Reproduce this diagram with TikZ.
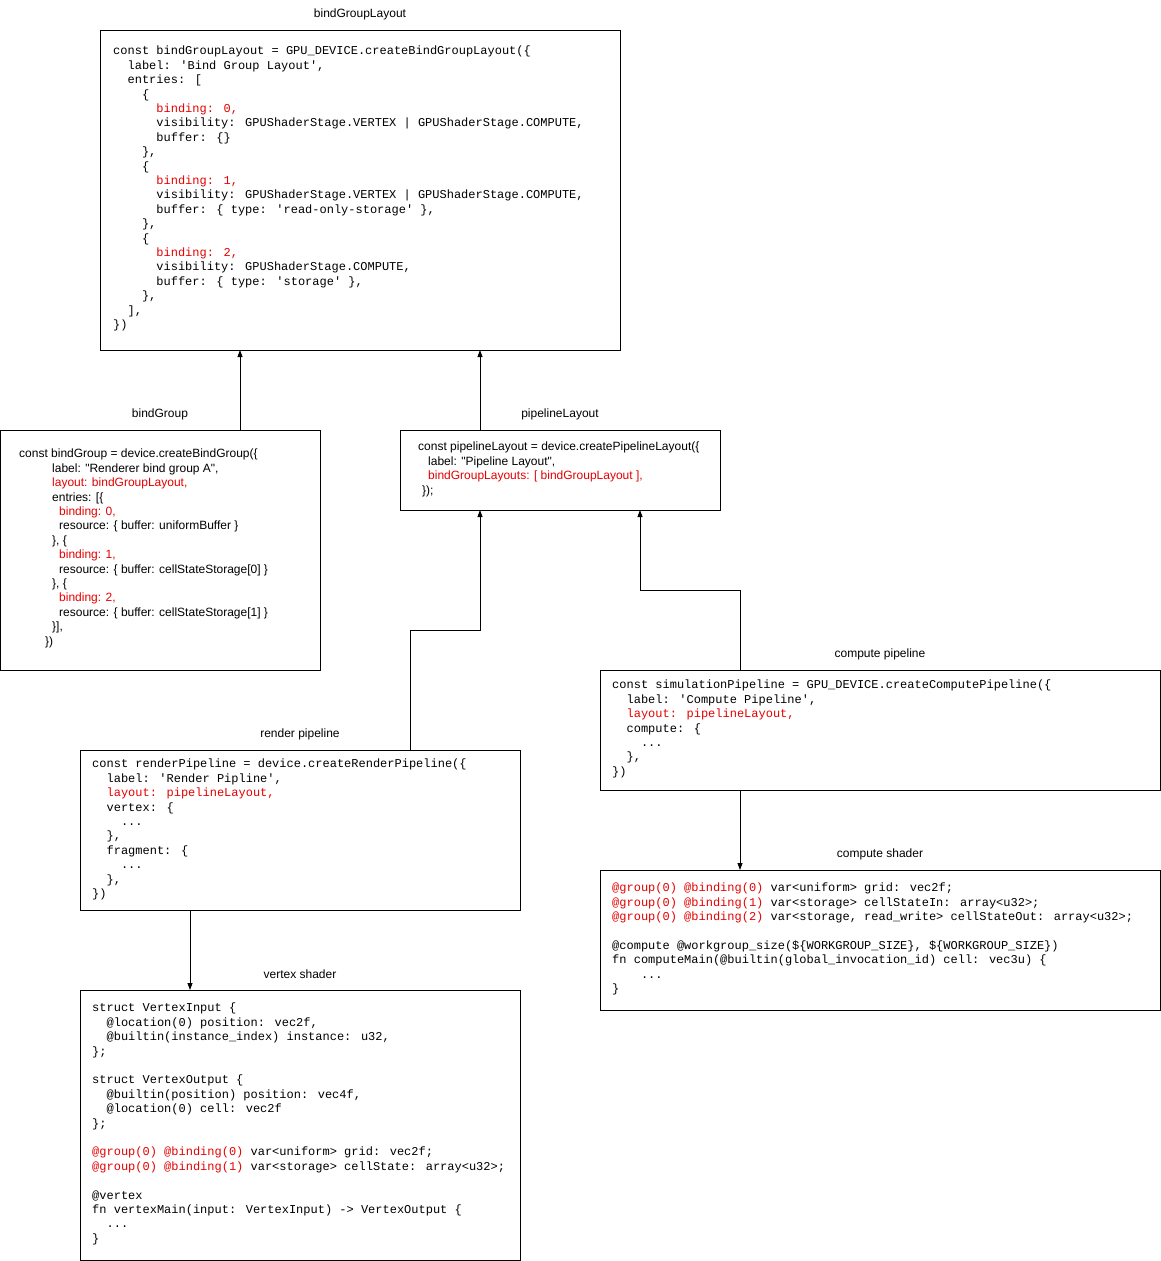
\documentclass[tikz,border=0pt]{standalone}
\usepackage{fontspec}
\usetikzlibrary{arrows.meta}
\newfontfamily\mono{Liberation Mono}
\newfontfamily\sans{Liberation Sans}
\definecolor{cred}{RGB}{230,0,0}
\newcommand{\I}[1]{\hspace*{#1\dimexpr7.2pt\relax}}
\newcommand{\R}[1]{\textcolor{cred}{#1}}
\newcommand{\B}{\mbox{}}
\begin{document}
\begin{tikzpicture}[x=1pt,y=-1pt,
  box/.style={draw,line width=0.8pt},
  code/.style={anchor=north west,inner sep=0pt,align=left,font=\mono\fontsize{12}{14.4}\selectfont},
  scode/.style={anchor=north west,inner sep=0pt,align=left,font=\sans\fontsize{12}{14.4}\selectfont},
  ttl/.style={font=\sans\fontsize{12}{14}\selectfont,inner sep=0pt},
  arr/.style={line width=0.8pt,-{Triangle[length=7pt,width=5pt]}}]
\useasboundingbox (0,0) rectangle (1161,1261);
\fill[white] (0,0) rectangle (1161,1261);
% boxes
\draw[box] (100,30) rectangle (620,350);
\draw[box] (0,430) rectangle (320,670);
\draw[box] (400,430) rectangle (720,510);
\draw[box] (600,670) rectangle (1160,790);
\draw[box] (80,750) rectangle (520,910);
\draw[box] (600,870) rectangle (1160,1010);
\draw[box] (80,990) rectangle (520,1260);
% titles
\node[ttl] (t1) at (360,14) {bindGroupLayout};
\node[ttl] (t2) at (160,414) {bindGroup};
\node[ttl] (t3) at (560,414) {pipelineLayout};
\node[ttl] (t4) at (880,654) {compute pipeline};
\node[ttl] (t5) at (300,734) {render pipeline};
\node[ttl] (t6) at (880,854) {compute shader};
\node[ttl] (t7) at (300,974) {vertex shader};
% connector points
\coordinate (a1) at (240,430); \coordinate (a1e) at (240,350);
\coordinate (a2) at (480,430); \coordinate (a2e) at (480,350);
\coordinate (a3) at (410,750); \coordinate (a3e) at (480,510);
\coordinate (a4) at (740,670); \coordinate (a4e) at (640,510);
\coordinate (a5) at (190,910); \coordinate (a5e) at (190,990);
\coordinate (a6) at (740,790); \coordinate (a6e) at (740,870);
\draw[arr] (a1) -- (a1e);
\draw[arr] (a2) -- (a2e);
\draw[arr] (a3) -- (410,630) -- (480,630) -- (a3e);
\draw[arr] (a4) -- (740,590) -- (640,590) -- (a4e);
\draw[arr] (a5) -- (a5e);
\draw[arr] (a6) -- (a6e);
% code
\node[code] (c1) at (113,46) {const bindGroupLayout = GPU\_DEVICE.createBindGroupLayout(\{\\
\I2label: 'Bind Group Layout',\\
\I2entries: [\\
\I4\{\\
\I6\R{binding: 0,}\\
\I6visibility: GPUShaderStage.VERTEX | GPUShaderStage.COMPUTE,\\
\I6buffer: \{\}\\
\I4\},\\
\I4\{\\
\I6\R{binding: 1,}\\
\I6visibility: GPUShaderStage.VERTEX | GPUShaderStage.COMPUTE,\\
\I6buffer: \{ type: 'read-only-storage' \},\\
\I4\},\\
\I4\{\\
\I6\R{binding: 2,}\\
\I6visibility: GPUShaderStage.COMPUTE,\\
\I6buffer: \{ type: 'storage' \},\\
\I4\},\\
\I2],\\
\})};
\node[scode] (c2) at (19,449) {const bindGroup = device.createBindGroup(\{\\
\hspace*{33pt}label: "Renderer bind group A",\\
\hspace*{33pt}\R{layout: bindGroupLayout,}\\
\hspace*{33pt}entries: [\{\\
\hspace*{40pt}\R{binding: 0,}\\
\hspace*{40pt}resource: \{ buffer: uniformBuffer \}\\
\hspace*{33pt}\}, \{\\
\hspace*{40pt}\R{binding: 1,}\\
\hspace*{40pt}resource: \{ buffer: cellStateStorage[0] \}\\
\hspace*{33pt}\}, \{\\
\hspace*{40pt}\R{binding: 2,}\\
\hspace*{40pt}resource: \{ buffer: cellStateStorage[1] \}\\
\hspace*{33pt}\}],\\
\hspace*{26pt}\})};
\node[scode] (c3) at (418,442) {const pipelineLayout = device.createPipelineLayout(\{\\
\hspace*{10pt}label: "Pipeline Layout",\\
\hspace*{10pt}\R{bindGroupLayouts: [ bindGroupLayout ],}\\
\hspace*{4pt}\});};
\node[code] (c4) at (612,680) {const simulationPipeline = GPU\_DEVICE.createComputePipeline(\{\\
\I2label: 'Compute Pipeline',\\
\I2\R{layout: pipelineLayout,}\\
\I2compute: \{\\
\I4...\\
\I2\},\\
\})};
\node[code] (c5) at (92,759) {const renderPipeline = device.createRenderPipeline(\{\\
\I2label: 'Render Pipline',\\
\I2\R{layout: pipelineLayout,}\\
\I2vertex: \{\\
\I4...\\
\I2\},\\
\I2fragment: \{\\
\I4...\\
\I2\},\\
\})};
\node[code] (c6) at (612,883) {\R{@group(0) @binding(0)} var<uniform> grid: vec2f;\\
\R{@group(0) @binding(1)} var<storage> cellStateIn: array<u32>;\\
\R{@group(0) @binding(2)} var<storage, read\_write> cellStateOut: array<u32>;\\
\B\\
@compute @workgroup\_size(\$\{WORKGROUP\_SIZE\}, \$\{WORKGROUP\_SIZE\})\\
fn computeMain(@builtin(global\_invocation\_id) cell: vec3u) \{\\
\I4...\\
\}};
\node[code] (c7) at (92,1003) {struct VertexInput \{\\
\I2@location(0) position: vec2f,\\
\I2@builtin(instance\_index) instance: u32,\\
\};\\
\B\\
struct VertexOutput \{\\
\I2@builtin(position) position: vec4f,\\
\I2@location(0) cell: vec2f\\
\};\\
\B\\
\R{@group(0) @binding(0)} var<uniform> grid: vec2f;\\
\R{@group(0) @binding(1)} var<storage> cellState: array<u32>;\\
\B\\
@vertex\\
fn vertexMain(input: VertexInput) -> VertexOutput \{\\
\I2...\\
\}};
\end{tikzpicture}
\end{document}
